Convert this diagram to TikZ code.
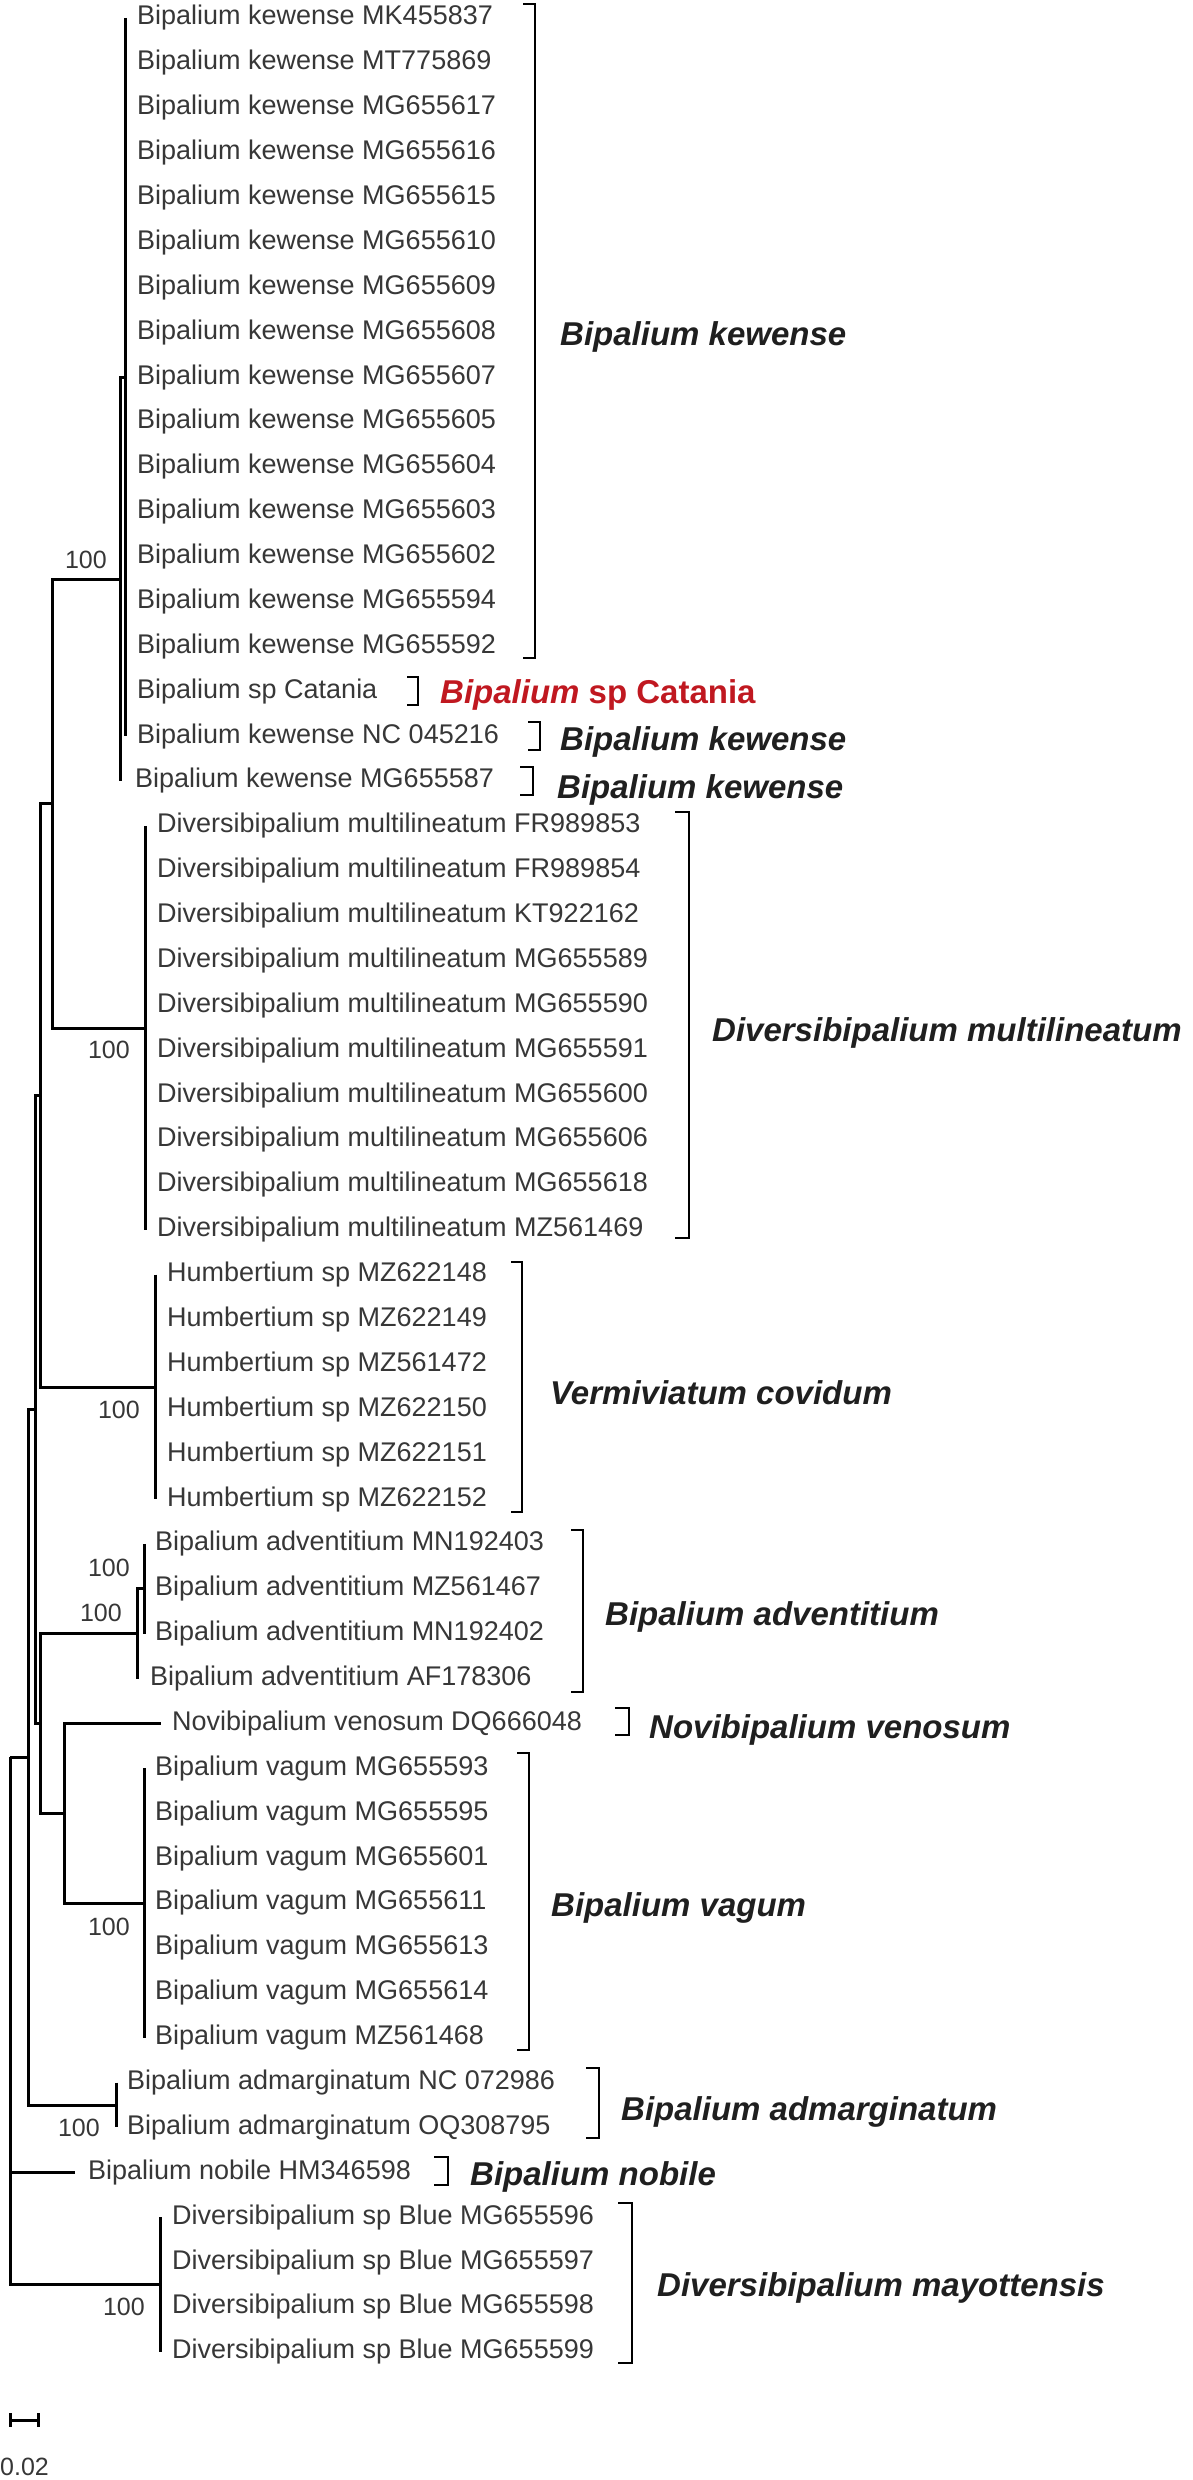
\documentclass[tikz,border=0pt]{standalone}
\usepackage{fontspec}
\setmainfont{Liberation Sans}
\usetikzlibrary{calc}
\definecolor{leafgray}{RGB}{55,55,55}
\definecolor{catred}{RGB}{192,24,32}

\begin{document}
\begin{tikzpicture}[x=1pt, y=-1pt,
    leaf/.style = {anchor=west, inner sep=0pt, text=leafgray, font=\fontsize{27}{30}\selectfont},
    clade/.style = {anchor=west, inner sep=0pt, text=black!88, font=\fontsize{33}{36}\selectfont\bfseries\itshape},
    boot/.style = {anchor=east, inner sep=0pt, text=leafgray, font=\fontsize{25}{28}\selectfont},
    branch/.style = {line width=3pt},
    brk/.style = {line width=2.6pt}]
      \useasboundingbox (0,0) rectangle (1192,2480);

      \foreach \acc [count=\i from 0] in {MK455837, MT775869, MG655617, MG655616, MG655615, MG655610, MG655609, MG655608, MG655607, MG655605, MG655604, MG655603, MG655602, MG655594, MG655592}
               {
                 \node [leaf] (kw\i) at (137, {18+44.88*\i}) {Bipalium kewense \acc};
               }
      \node [leaf] (cat) at (137, {18+44.88*15}) {Bipalium sp Catania};
      \node [leaf] (kwnc) at (137, {18+44.88*16}) {Bipalium kewense NC 045216};
      \node [leaf] (kw87) at (135, {18+44.88*17}) {Bipalium kewense MG655587};
      \foreach \acc [count=\i from 0] in {FR989853, FR989854, KT922162, MG655589, MG655590, MG655591, MG655600, MG655606, MG655618, MZ561469}
               {
                 \node [leaf] (ml\i) at (157, {18+44.88*(18+\i)}) {Diversibipalium multilineatum \acc};
               }
      \foreach \acc [count=\i from 0] in {MZ622148, MZ622149, MZ561472, MZ622150, MZ622151, MZ622152}
               {
                 \node [leaf] (hb\i) at (167, {18+44.88*(28+\i)}) {Humbertium sp \acc};
               }
      \foreach \lx/\acc [count=\i from 0] in {155/MN192403, 155/MZ561467, 155/MN192402, 150/AF178306}
               {
                 \node [leaf] (ad\i) at (\lx, {18+44.88*(34+\i)}) {Bipalium adventitium \acc};
               }
      \node [leaf] (nv) at (172, {18+44.88*38}) {Novibipalium venosum DQ666048};
      \foreach \acc [count=\i from 0] in {MG655593, MG655595, MG655601, MG655611, MG655613, MG655614, MZ561468}
               {
                 \node [leaf] (vg\i) at (155, {18+44.88*(39+\i)}) {Bipalium vagum \acc};
               }
      \foreach \acc [count=\i from 0] in {NC 072986, OQ308795}
               {
                 \node [leaf] (am\i) at (127, {18+44.88*(46+\i)}) {Bipalium admarginatum \acc};
               }
      \node [leaf] (nb) at (88, {18+44.88*48}) {Bipalium nobile HM346598};
      \foreach \acc [count=\i from 0] in {MG655596, MG655597, MG655598, MG655599}
               {
                 \node [leaf] (bl\i) at (172, {18+44.88*(49+\i)}) {Diversibipalium sp Blue \acc};
               }

      \coordinate (kwA) at (125, 377);
      \coordinate (kwB) at (120, 579);
      \coordinate (mlA) at (145, 1028);
      \coordinate (kmB) at (52, 803.5);
      \coordinate (hbA) at (155, 1387);
      \coordinate (A1) at (40, 1095);
      \coordinate (advF) at (144, 1588.8);
      \coordinate (advG) at (137, 1633.7);
      \coordinate (vgA) at (144, 1903);
      \coordinate (nvH) at (64, 1813.2);
      \coordinate (C1) at (40, 1723.5);
      \coordinate (B1) at (35, 1409.3);
      \coordinate (amA) at (116, 2105);
      \coordinate (D1) at (28, 1757);
      \coordinate (blA) at (160, 2284.5);
      \coordinate (root) at (10, 1757);

      \draw [branch] (kwA |- kw0) -- (kwA |- kwnc);
      \draw [branch] (kwB) |- (kwA);
      \draw [branch] (kwB) -- (kwB |- kw87);
      \draw [branch] (kmB) |- (kwB);
      \draw [branch] (kmB) |- (mlA);
      \draw [branch] (mlA |- ml0) -- (mlA |- ml9);
      \draw [branch] (A1) |- (kmB);
      \draw [branch] (A1) |- (hbA);
      \draw [branch] (hbA |- hb0) -- (hbA |- hb5);
      \draw [branch] (B1) |- (A1);
      \draw [branch] (B1) |- (C1);
      \draw [branch] (C1) |- (advG);
      \draw [branch] (C1) |- (nvH);
      \draw [branch] (advG) |- (advF);
      \draw [branch] (advG) -- (advG |- ad3);
      \draw [branch] (advF |- ad0) -- (advF |- ad2);
      \draw [branch] (nvH) |- ([xshift=-11pt]nv.west);
      \draw [branch] (nvH) |- (vgA);
      \draw [branch] (vgA |- vg0) -- (vgA |- vg6);
      \draw [branch] (D1) |- (B1);
      \draw [branch] (D1) |- (amA);
      \draw [branch] (amA |- am0) -- (amA |- am1);
      \draw [branch] (root) |- (D1);
      \draw [branch] (root) |- ([xshift=-13pt]nb.west);
      \draw [branch] (root) |- (blA);
      \draw [branch] (blA |- bl0) -- (blA |- bl3);

      \node [boot] (bkw) at (107, 560) {100};
      \node [boot] (bml) at (130, 1050) {100};
      \node [boot] (bhb) at (140, 1410) {100};
      \node [boot] (badF) at (130, 1568) {100};
      \node [boot] (badG) at (122, 1613) {100};
      \node [boot] (bvg) at (130, 1927) {100};
      \node [boot] (bam) at (100, 2128) {100};
      \node [boot] (bbl) at (145, 2307) {100};

      \foreach \bx/\ba/\bb/\bh in {535/4/658/12, 418/677/705/11, 540/722/750/12, 533/767/795/13, 689/812/1238/14, 522/1262/1512/11, 583/1530/1692/12, 629/1708/1735/14, 529/1753/2050/12, 599/2068/2138/13, 448/2157/2185/14, 632/2203/2363/14}
               {
                 \draw [brk] (\bx-\bh, \ba) -- (\bx, \ba) -- (\bx, \bb) -- (\bx-\bh, \bb);
               }

      \node [clade] (lkw) at (560, 337) {Bipalium kewense};
      \node [clade, text=catred] (lcat) at (440, 695) {Bipalium \upshape sp Catania};
      \node [clade] (lkwnc) at (560, 742) {Bipalium kewense};
      \node [clade] (lkw87) at (557, 790) {Bipalium kewense};
      \node [clade] (lml) at (712, 1033) {Diversibipalium multilineatum};
      \node [clade] (lvc) at (550, 1393) {Vermiviatum covidum};
      \node [clade] (lad) at (605, 1617) {Bipalium adventitium};
      \node [clade] (lnv) at (649, 1730) {Novibipalium venosum};
      \node [clade] (lvg) at (551, 1908) {Bipalium vagum};
      \node [clade] (lam) at (621, 2112) {Bipalium admarginatum};
      \node [clade] (lnb) at (470, 2177) {Bipalium nobile};
      \node [clade] (lbl) at (657, 2288) {Diversibipalium mayottensis};

      \coordinate (sb0) at (10, 2420);
      \coordinate (sb1) at (38, 2420);
      \draw [branch] (sb0) -- (sb1);
      \draw [branch] ([yshift=7pt]sb0) -- ([yshift=-7pt]sb0);
      \draw [branch] ([yshift=7pt]sb1) -- ([yshift=-7pt]sb1);
      \node [leaf, font=\fontsize{25}{28}\selectfont] (sblab) at (0, 2467) {0.02};
    \end{tikzpicture}
\end{document}
